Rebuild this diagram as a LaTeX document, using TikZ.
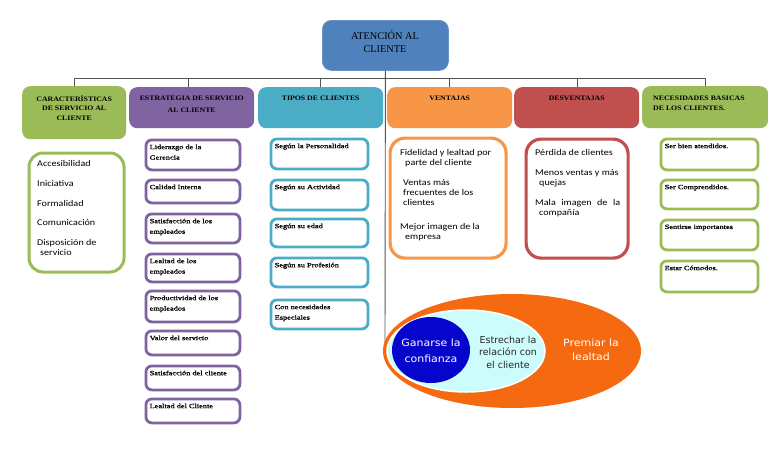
\documentclass[tikz,border=0pt]{standalone}
\usepackage{fontspec}
\setmainfont{Liberation Serif}
\newfontfamily\hdrf[FakeStretch=1.15, BoldFeatures={FakeStretch=1.15}]{Liberation Serif}
\newfontfamily\itf[FakeStretch=1.3, FakeBold=1.6]{Liberation Serif}
\newfontfamily\bodyf[FakeStretch=1.15]{Carlito}
\newfontfamily\ellf{DejaVu Sans}
\newfontfamily\ellw[FakeStretch=1.1]{DejaVu Sans}
\usetikzlibrary{shapes.geometric}
\definecolor{cblue}{HTML}{4F81BD}
\definecolor{cgreen}{HTML}{9BBB59}
\definecolor{cpurple}{HTML}{8064A2}
\definecolor{cteal}{HTML}{4BACC6}
\definecolor{corange}{HTML}{F79646}
\definecolor{cred}{HTML}{C0504D}
\definecolor{eorange}{HTML}{F56A10}
\definecolor{eblue}{HTML}{0505CC}
\definecolor{ecyan}{HTML}{CCFCFC}
\definecolor{lineg}{HTML}{555555}
\newcommand\ibx[7]{%
  \node[ibox, draw=#6, minimum width=#4pt, minimum height=#5pt] (#1) at (#2,#3) {};
  \node[itxt] (#1t) at ([xshift=5pt,yshift=-6pt]#1.north west) {#7};}
\begin{document}
\begin{tikzpicture}[x=1pt,y=-1pt,
  hdr/.style={rectangle, rounded corners=8pt, anchor=north west, inner sep=0pt},
  hdrtxt/.style={font=\hdrf\bfseries\fontsize{6.8}{9.5}\selectfont, align=center, inner sep=0pt, anchor=north},
  ibox/.style={rectangle, rounded corners=6pt, line width=2.8pt, fill=white, anchor=north west, inner sep=0pt},
  itxt/.style={font=\itf\fontsize{6.4}{10.5}\selectfont, align=left, inner sep=0pt, anchor=north west},
  bbox/.style={rectangle, rounded corners=15pt, line width=3.2pt, fill=white, anchor=north west, inner sep=0pt},
  btxt/.style={font=\bodyf\fontsize{8.8}{10}\selectfont, align=left, inner sep=0pt, anchor=north west},
  conn/.style={draw=lineg, line width=0.9pt},
  etxt/.style={font=\ellw\fontsize{10}{15.5}\selectfont, align=center, inner sep=0pt}]
\useasboundingbox (0,0) rectangle (768,466);

% top node
\node[rectangle, rounded corners=9pt, fill=cblue, draw=cblue!85!white, line width=0.8pt,
  minimum width=126pt, minimum height=50pt, anchor=north west] (top) at (322,20) {};
\node[font=\fontsize{10.3}{13}\selectfont, align=center, inner sep=0pt] (topt) at (385,42) {ATENCIÓN AL\\CLIENTE};

% headers
\node[hdr, fill=cgreen, minimum width=104pt, minimum height=53pt] (h1) at (22,86) {};
\node[hdr, fill=cpurple, minimum width=125pt, minimum height=41pt] (h2) at (129,87) {};
\node[hdr, fill=cteal, minimum width=125pt, minimum height=41pt] (h3) at (258,87) {};
\node[hdr, fill=corange, minimum width=125pt, minimum height=41pt] (h4) at (387,87) {};
\node[hdr, fill=cred, minimum width=125pt, minimum height=41pt] (h5) at (514,87) {};
\node[hdr, fill=cgreen, minimum width=126pt, minimum height=42pt] (h6) at (642,86) {};

\node[hdrtxt] (h1t) at ([yshift=-9pt]h1.north) {CARACTERÍSTICAS\\DE SERVICIO AL\\CLIENTE};
\node[hdrtxt, font=\hdrf\bfseries\fontsize{6.8}{11.5}\selectfont] (h2t) at ([yshift=-9pt]h2.north) {ESTRATEGIA DE SERVICIO\\AL CLIENTE};
\node[hdrtxt] (h3t) at ([yshift=-9pt]h3.north) {TIPOS DE CLIENTES};
\node[hdrtxt] (h4t) at ([yshift=-9pt]h4.north) {VENTAJAS};
\node[hdrtxt] (h5t) at ([yshift=-9pt]h5.north) {DESVENTAJAS};
\node[hdrtxt, align=left, anchor=north west] (h6t) at (653,96) {NECESIDADES BASICAS\\DE LOS CLIENTES.};

% connectors
\coordinate (bus) at (385,78);
\coordinate (stem) at (385,345);
\draw[conn] (top.south) -- (stem);
\draw[conn] (h1.north |- bus) -- (h6.north |- bus);
\draw[conn] (h1.north |- bus) -- (h1.north);
\draw[conn] ([xshift=-3pt]h2.north |- bus) -- ([xshift=-3pt]h2.north);
\draw[conn] (h3.north |- bus) -- (h3.north);
\draw[conn] (h4.north |- bus) -- (h4.north);
\draw[conn] ([xshift=1pt]h5.north |- bus) -- ([xshift=1pt]h5.north);
\draw[conn] (h6.north |- bus) -- (h6.north);

% left green box
\node[bbox, draw=cgreen, line width=3pt, rounded corners=14pt, minimum width=95pt, minimum height=119pt] (g1) at (27.5,151.5) {};
\node[btxt, font=\bodyf\fontsize{8.8}{10}\selectfont] (g1t) at (37,160.5) {Accesibilidad\\[9.6pt]Iniciativa\\[9.6pt]Formalidad\\[9.6pt]Comunicación\\[9.6pt]Disposición de\\\hspace{3pt}servicio};

% purple items
\ibx{p1}{144.5}{138.5}{94}{30}{cpurple}{Liderazgo de la\\Gerencia}
\ibx{p2}{144.5}{178.5}{94}{23}{cpurple}{Calidad Interna}
\ibx{p3}{144.5}{212.5}{94}{29}{cpurple}{Satisfacción de los\\empleados}
\ibx{p4}{144.5}{252.5}{94}{28}{cpurple}{Lealtad de los\\empleados}
\ibx{p5}{144.5}{289.5}{94}{31}{cpurple}{Productividad de los\\empleados}
\ibx{p6}{144.5}{329.5}{94}{24}{cpurple}{Valor del servicio}
\ibx{p7}{144.5}{364.5}{94}{24}{cpurple}{Satisfacción del cliente}
\ibx{p8}{144.5}{397.5}{94}{24}{cpurple}{Lealtad del Cliente}

% teal items
\ibx{t1}{269.5}{137.5}{97}{30}{cteal}{Según la Personalidad}
\ibx{t2}{269.5}{178.5}{97}{30}{cteal}{Según su Actividad}
\ibx{t3}{269.5}{217.5}{97}{28}{cteal}{Según su edad}
\ibx{t4}{269.5}{256.5}{97}{29}{cteal}{Según su Profesión}
\ibx{t5}{269.5}{298.5}{97}{29}{cteal}{Con necesidades\\Especiales}

% green right items
\ibx{n1}{659.5}{137.5}{97}{31}{cgreen}{Ser bien atendidos.}
\ibx{n2}{659.5}{178.5}{97}{29}{cgreen}{Ser Comprendidos.}
\ibx{n3}{659.5}{218.5}{97}{30}{cgreen}{Sentirse importantes}
\ibx{n4}{659.5}{259.5}{97}{31}{cgreen}{Estar Cómodos.}

% orange box
\node[bbox, draw=corange, minimum width=116pt, minimum height=120pt] (o1) at (388.5,136.5) {};
\node[btxt] (o1t) at (400,149.5) {Fidelidad y lealtad por\\\hspace{5pt}parte del cliente\\[10pt]\hspace{3pt}Ventas más\\\hspace{3pt}frecuentes de los\\\hspace{3pt}clientes\\[14pt]Mejor imagen de la\\\hspace{5pt}empresa};

% red box
\node[bbox, draw=cred, minimum width=102pt, minimum height=119pt] (r1) at (524.5,137.5) {};
\node[btxt] (r1t) at (535,149) {Pérdida de clientes\\[10.5pt]Menos ventas y más\\\hspace{4pt}quejas\\[10pt]\makebox[85pt][s]{Mala imagen de la}\\\hspace{4pt}compañía};

% ellipses
\node[ellipse, fill=eorange, minimum width=258pt, minimum height=114pt, inner sep=0pt] (eo) at (512,351) {};
\node[ellipse, fill=ecyan, draw=white, line width=1.5pt, minimum width=158pt, minimum height=82pt, inner sep=0pt] (ec) at (466,351) {};
\node[ellipse, fill=eblue, minimum width=78pt, minimum height=66pt, inner sep=0pt] (eb) at (431,350) {};
\node[etxt, text=white] (ebt) at (431,351) {Ganarse la\\confianza};
\node[etxt, text=black!85, font=\ellf\fontsize{9.5}{12.5}\selectfont] (ect) at (508,352) {Estrechar la\\relación con\\el cliente};
\node[etxt, text=white, font=\ellw\fontsize{10}{14.5}\selectfont] (eot) at (591,350) {Premiar la\\lealtad};
\end{tikzpicture}
\end{document}
